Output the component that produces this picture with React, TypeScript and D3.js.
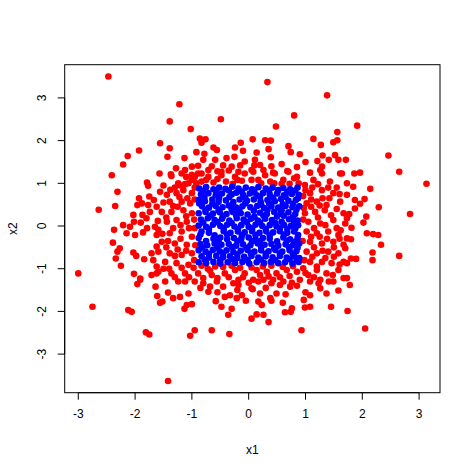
import React from "react";
import * as d3 from "d3";

// points, [x1, x2]
const redPoints: [number, number][] = [
  [-2.47,3.5],[-1.93,1.77],[-2.13,1.64],[-2.21,1.44],[-2.41,1.19],[-1.56,1.94],
  [-1.22,2.85],[-1.39,2.45],[-0.49,2.5],[-1.02,2.27],[-1.39,1.82],[-1.43,1.62],[-0.86,2.05],[-0.76,2.03],[-0.83,1.95],[-0.92,1.73],[-0.78,1.69],[-0.62,1.84],[-0.56,1.78],[-1.13,1.59],[-0.24,1.84],[-0.14,1.95],[0.07,2.03],[-0.1,1.76],[-1.28,1.35],[-1.37,1.21],[-1.0,1.39],[-0.89,1.41],[-0.59,1.55],[-0.39,1.59],[-0.3,1.39],[-0.07,1.51],[0.05,1.31],[-0.71,1.31],[-0.48,1.27],[-0.18,1.27],[-1.12,1.31],[-0.83,1.23],
  [0.33,3.37],[1.38,3.06],[0.8,2.59],[0.48,2.33],[0.29,2.01],[0.39,2.0],[1.14,2.04],[1.56,2.2],[1.56,2.01],[1.49,1.96],[1.27,1.9],[0.35,1.8],[0.7,1.87],[0.74,1.73],[0.39,1.61],[0.14,1.72],[0.11,1.55],[0.2,1.43],[0.26,1.31],[1.3,1.65],[1.52,1.66],[1.58,1.55],[1.71,1.55],[1.41,1.55],[1.21,1.52],[1.29,1.39],[1.26,1.31],[1.08,1.25],[0.68,1.29],[0.43,1.25],[1.64,1.23],
  [1.91,2.35],[2.46,1.65],[2.65,1.27],[1.86,1.23],[1.96,1.25],
  [3.13,0.99],[1.84,0.92],[2.14,0.87],[1.73,0.73],[1.87,0.61],[2.04,0.63],[1.96,0.52],[2.29,0.44],[1.87,0.41],[1.77,0.28],[2.84,0.28],[2.07,0.22],[1.73,0.18],[2.02,0.08],[1.81,-0.04],[2.08,-0.17],[2.19,-0.19],[2.28,-0.21],[1.73,-0.29],[1.8,-0.31],[2.33,-0.44],[1.7,-0.52],[2.18,-0.62],[2.65,-0.7],[1.8,-0.76],[1.89,-0.77],[2.18,-0.8],[1.73,-0.87],[1.73,-1.22],[1.78,-1.38],
  [1.74,-1.99],[2.05,-2.4],
  [-2.75,-1.89],[-2.12,-1.97],[-2.06,-2.01],[-1.81,-2.49],[-1.75,-2.54],[-1.96,-1.36],[-1.91,-1.26],[-1.64,-1.42],[-1.61,-1.64],[-1.56,-1.8],
  [-1.42,-3.63],[-1.03,-2.57],[-0.95,-2.44],[-0.65,-2.44],[-0.34,-2.53],[-0.36,-2.08],[-0.3,-1.94],[-0.48,-1.89],[-0.58,-1.76],[0.05,-2.17],[-1.13,-1.94],[-1.09,-1.85],[-1.0,-1.83],[-1.06,-1.58],[-1.21,-1.66],[-1.33,-1.69],[-1.42,-1.56],[-1.52,-1.77],[-1.12,-1.3],[-0.8,-1.34],[-0.71,-1.54],[-0.68,-1.42],[-0.56,-1.3],[-0.45,-1.42],[-0.42,-1.66],[-0.33,-1.62],[-0.21,-1.69],[-0.12,-1.62],[-0.27,-1.34],[-0.18,-1.38],[0.05,-1.46],
  [0.93,-2.44],[0.35,-2.25],[0.14,-2.07],[0.26,-2.08],[0.64,-2.02],[0.74,-2.01],[0.76,-1.93],[0.99,-1.91],[1.08,-1.89],[1.45,-1.89],[0.97,-1.73],[1.08,-1.62],[1.26,-1.46],[1.37,-1.58],[1.58,-1.51],[1.41,-1.3],[1.23,-1.34],[0.73,-1.42],[0.55,-1.38],[0.4,-1.34],[0.49,-1.58],[0.38,-1.69],[0.4,-1.75],[0.2,-1.58],[0.23,-1.85],[0.17,-1.77],[0.07,-1.48],[0.17,-1.3],[0.76,-1.33],
  [-2.31,0.8],[-2.64,0.38],[-2.35,0.47],[-1.79,1.02],[-1.77,0.94],[-1.93,0.65],[-1.88,0.53],[-1.75,0.69],[-1.67,0.61],[-1.77,0.49],[-1.74,0.33],[-2.03,0.26],[-1.87,0.26],[-1.8,0.18],[-2.02,0.1],[-1.9,0.08],[-2.37,-0.09],[-2.21,0.02],[-2.09,-0.02],[-2.15,-0.17],[-2.0,-0.21],[-1.86,-0.15],[-1.79,-0.05],[-1.65,-0.02],[-1.62,-0.21],[-2.39,-0.39],[-2.27,-0.52],[-2.31,-0.6],[-2.34,-0.76],[-2.03,-0.62],[-1.98,-0.7],[-1.84,-0.78],[-1.71,-0.64],[-1.62,-0.48],[-2.25,-0.93],[-3.0,-1.11],[-2.02,-1.12],[-1.91,-1.23],[-1.71,-1.15],[-1.62,-1.11],[-1.62,-0.95],[-1.68,-0.8],[-1.56,0.8],[-1.57,1.23],[-1.96,0.49],
  [-1.36,1.17],[-1.18,1.23],[-0.89,1.23],[-0.71,1.15],[-0.48,1.19],[-0.24,1.15],[-0.07,1.23],[0.05,1.08],[-1.0,1.08],[-0.83,1.04],[-1.24,1.0],[-1.06,1.0],[-1.44,0.73],[-1.27,0.77],[-1.15,0.84],[-1.0,0.77],[-1.39,0.57],[-1.18,0.57],[-1.03,0.53],[-1.53,0.33],[-1.36,0.33],[-1.15,0.37],[-1.0,0.3],[-1.44,0.1],[-1.27,0.14],[-1.09,0.1],[-1.59,-0.09],[-1.39,-0.17],[-1.18,-0.13],[-1.0,-0.25],[-1.53,-0.37],[-1.3,-0.41],[-1.09,-0.44],[-1.59,-0.6],[-1.39,-0.64],[-1.18,-0.68],[-1.0,-0.64],[-1.47,-0.84],[-1.27,-0.87],[-1.06,-0.91],[-0.83,-0.93],[-0.59,-0.95],[-1.59,-1.07],[-1.36,-1.11],[-1.12,-1.11],[-0.89,-1.11],[-0.65,-1.15],[-0.42,-1.11],[-0.24,-1.03],[-0.07,-1.11],[0.05,-0.97],[-1.47,-1.3],[-1.24,-1.3],[-0.95,-1.3],[-0.18,-1.26],
  [0.08,1.27],[0.29,1.19],[0.46,1.23],[0.7,1.27],[0.85,1.15],[1.29,1.23],[1.61,1.23],[0.17,1.08],[0.38,1.04],[0.61,1.08],[0.99,0.96],[1.14,1.08],[1.43,1.04],[1.73,1.0],[1.08,0.77],[1.29,0.84],[1.49,0.77],[1.2,0.57],[1.02,0.53],[1.37,0.49],[1.61,0.57],[1.17,0.33],[1.34,0.37],[0.99,0.3],[1.67,0.3],[1.05,0.1],[1.26,0.06],[1.49,0.14],[1.7,0.06],[1.02,-0.13],[1.2,-0.17],[1.4,-0.13],[1.58,-0.21],[1.08,-0.37],[1.29,-0.41],[1.49,-0.37],[1.67,-0.44],[1.02,-0.6],[1.2,-0.64],[1.4,-0.6],[1.58,-0.64],[1.08,-0.84],[1.29,-0.84],[1.46,-0.87],[1.67,-0.84],[0.14,-1.03],[0.32,-1.07],[0.49,-1.11],[0.67,-1.03],[0.85,-1.07],[0.96,-0.99],[1.2,-1.03],[1.37,-1.11],[1.58,-1.03],[0.08,-1.26],[0.26,-1.26],[0.43,-1.26],[0.61,-1.3],[0.9,-1.26],[1.08,-1.3],[1.26,-1.26],[1.49,-1.3],[1.67,-1.22],
  [-0.62,1.02],[-0.4,1.04],[-0.28,0.99],[-0.12,1.06],[0.45,1.0],[0.72,0.99],[0.8,1.12],[-0.55,1.28],[-0.35,1.3],
  [-0.45,-0.96],[-0.3,-0.93],[-0.15,-0.98],[0.25,-0.95],[0.4,-0.93],[0.6,-0.96],[0.78,-0.94],[-0.72,-1.0],[-0.1,-1.2],[-0.55,-1.22],[0.35,-1.18],[0.72,-1.17],[1.05,-1.15],[-0.8,-1.22],
  [0.96,0.7],[0.97,0.42],[0.95,-0.35],[0.98,-0.8],[0.96,0.15],[1.12,0.9],[1.15,-0.05],[1.25,-0.25],[1.1,0.45],[1.3,0.65],[1.15,-0.5],[1.35,-0.75],[1.55,0.4],[1.45,0.25],[1.55,-0.05],[1.4,0.9],[1.55,0.9],[1.6,-0.3],[1.5,-0.5],[1.6,-0.9],
  [-0.95,0.62],[-0.96,0.15],[-0.95,-0.05],[-0.94,-0.45],[-0.96,-0.8],[-0.95,0.9],
  [-1.5,0.55],[-1.25,0.45],[-1.45,0.2],[-1.2,-0.3],[-1.45,-0.5],[-1.3,-0.7],[-1.5,-1.0],[-1.3,-1.2],[-1.05,-1.2],[-1.2,0.95],[-1.3,0.9],[-1.5,0.95],[-1.1,1.15],[-0.95,1.15],
  // denser ring
  [-1.08,0.65],[-1.22,0.68],[-1.33,0.47],[-1.1,0.23],[-1.2,0.02],[-1.33,-0.05],[-1.05,-0.05],[-1.1,-0.58],[-1.25,-0.55],[-1.42,-0.35],[-1.52,-0.18],[-1.6,0.12],[-1.62,0.45],[-1.38,0.85],[-1.12,0.98],[-0.97,-0.98],[-1.18,-0.98],[-1.4,-1.0],
  [-0.75,1.08],[-0.55,1.1],[-0.2,1.08],[0.22,1.0],[0.58,0.99],[0.88,1.0],[-0.92,1.0],[-0.65,1.4],[-0.45,1.42],[-0.15,1.42],[0.1,1.42],[0.4,1.4],[0.58,1.45],[0.85,1.38],[1.0,1.5],[0.9,1.68],[-0.25,1.62],[-0.8,1.55],[-1.0,1.2],
  [-0.68,-1.05],[-0.35,-1.2],[0.0,-1.33],[0.2,-1.15],[0.55,-1.2],[0.85,-1.4],[1.0,-1.1],[1.15,-1.2],[-0.85,-1.45],[-0.55,-1.55],[-0.2,-1.5],[0.3,-1.45],[0.65,-1.6],[1.0,-1.55],[-0.05,-1.75],[0.6,-1.8],
  [1.1,0.62],[1.22,0.2],[1.35,0.02],[1.1,-0.25],[1.38,-0.3],[1.3,-0.58],[1.12,-0.72],[1.5,-0.72],[1.25,0.48],[1.42,0.65],[1.22,0.98],[1.0,0.84],[1.6,0.75],[1.62,-0.1],[1.48,-1.15],[1.2,-0.95],
];

const bluePoints: [number, number][] = [
  [-0.87,0.88],[-0.75,0.91],[-0.62,0.86],[-0.52,0.9],[-0.41,0.87],[-0.29,0.92],[-0.18,0.88],[-0.05,0.9],[0.06,0.86],[0.17,0.91],[0.3,0.88],[0.42,0.9],[0.61,0.89],[0.73,0.86],[0.86,0.9],
  [-0.84,0.74],[-0.71,0.77],[-0.58,0.72],[-0.47,0.76],[-0.3,0.74],[-0.22,0.78],[-0.1,0.73],[0.02,0.76],[0.14,0.72],[0.25,0.77],[0.37,0.74],[0.5,0.76],[0.62,0.72],[0.76,0.75],[0.88,0.73],
  [-0.88,0.61],[-0.77,0.58],[-0.64,0.62],[-0.53,0.57],[-0.4,0.6],[-0.27,0.56],[-0.16,0.62],[-0.03,0.59],[0.09,0.62],[0.21,0.57],[0.33,0.61],[0.46,0.58],[0.57,0.63],[0.7,0.59],[0.83,0.61],
  [-0.82,0.46],[-0.7,0.43],[-0.58,0.47],[-0.46,0.44],[-0.35,0.48],[-0.22,0.43],[-0.11,0.46],[0.03,0.44],[0.15,0.47],[0.27,0.42],[0.4,0.46],[0.52,0.43],[0.65,0.47],[0.77,0.44],[0.89,0.46],
  [-0.88,0.3],[-0.76,0.33],[-0.63,0.29],[-0.51,0.32],[-0.39,0.28],[-0.28,0.33],[-0.14,0.3],[-0.02,0.27],[0.2,0.31],[0.32,0.28],[0.45,0.33],[0.56,0.29],[0.7,0.32],[0.82,0.28],
  [-0.84,0.15],[-0.72,0.18],[-0.6,0.14],[-0.47,0.17],[-0.34,0.13],[-0.21,0.18],[-0.09,0.15],[0.04,0.17],[0.16,0.13],[0.29,0.17],[0.41,0.14],[0.71,0.16],[0.86,0.13],
  [-0.88,0.01],[-0.75,-0.02],[-0.63,0.03],[-0.5,0.0],[-0.38,0.03],[-0.25,-0.01],[-0.13,0.02],[0.0,-0.02],[0.12,0.03],[0.24,0.0],[0.37,0.02],[0.49,-0.01],[0.62,0.03],[0.74,0.0],[0.87,0.02],
  [-0.83,-0.13],[-0.7,-0.16],[-0.44,-0.12],[-0.32,-0.16],[-0.19,-0.13],[-0.07,-0.15],[0.06,-0.12],[0.19,-0.16],[0.31,-0.13],[0.43,-0.15],[0.55,-0.12],[0.68,-0.16],[0.8,-0.13],
  [-0.88,-0.28],[-0.62,-0.3],[-0.5,-0.27],[-0.38,-0.31],[-0.26,-0.28],[-0.13,-0.3],[0.0,-0.27],[0.12,-0.31],[0.25,-0.28],[0.37,-0.3],[0.61,-0.27],[0.73,-0.31],[0.86,-0.28],
  [-0.85,-0.42],[-0.73,-0.45],[-0.6,-0.41],[-0.48,-0.44],[-0.35,-0.42],[-0.22,-0.46],[-0.1,-0.43],[0.03,-0.45],[0.16,-0.41],[0.28,-0.44],[0.4,-0.42],[0.52,-0.46],[0.65,-0.43],[0.78,-0.45],[0.89,-0.41],
  [-0.88,-0.57],[-0.76,-0.6],[-0.63,-0.56],[-0.51,-0.59],[-0.39,-0.57],[-0.27,-0.61],[-0.14,-0.58],[-0.02,-0.56],[0.1,-0.6],[0.22,-0.57],[0.35,-0.59],[0.47,-0.56],[0.59,-0.6],[0.72,-0.57],[0.84,-0.59],
  [-0.83,-0.71],[-0.7,-0.74],[-0.57,-0.7],[-0.45,-0.73],[-0.33,-0.71],[-0.2,-0.75],[-0.08,-0.72],[0.05,-0.7],[0.17,-0.74],[0.3,-0.71],[0.42,-0.73],[0.55,-0.7],[0.67,-0.74],[0.8,-0.71],[0.89,-0.75],
  [-0.88,-0.85],[-0.75,-0.87],[-0.62,-0.84],[-0.5,-0.88],[-0.37,-0.85],[-0.24,-0.87],[-0.11,-0.84],[0.01,-0.88],[0.14,-0.85],[0.27,-0.87],[0.39,-0.84],[0.52,-0.87],[0.64,-0.85],[0.77,-0.88],[0.88,-0.84],
  // in-between points
  [-0.81,0.82],[-0.57,0.8],[-0.35,0.83],[-0.12,0.81],[0.1,0.8],[0.36,0.83],[0.52,0.84],[0.68,0.8],[0.82,0.83],
  [-0.78,0.67],[-0.52,0.66],[-0.34,0.68],[-0.06,0.66],[0.2,0.68],[0.43,0.66],[0.65,0.68],[0.87,0.65],
  [-0.87,0.53],[-0.64,0.52],[-0.28,0.51],[-0.06,0.53],[0.22,0.5],[0.36,0.53],[0.6,0.51],[0.78,0.52],
  [-0.76,0.38],[-0.53,0.37],[-0.3,0.39],[-0.17,0.37],[0.09,0.36],[0.33,0.38],[0.58,0.37],[0.84,0.38],
  [-0.68,0.24],[-0.45,0.23],[-0.22,0.25],[0.1,0.22],[0.26,0.24],[0.5,0.22],[0.62,0.24],[0.78,0.21],
  [-0.8,0.08],[-0.55,0.09],[-0.3,0.07],[-0.03,0.09],[0.2,0.08],[0.47,0.07],[0.58,0.1],[0.8,0.08],
  [-0.7,-0.07],[-0.44,-0.05],[-0.19,-0.07],[0.06,-0.06],[0.3,-0.07],[0.55,-0.05],[0.68,-0.07],[0.82,-0.06],
  [-0.85,-0.2],[-0.6,-0.22],[-0.38,-0.2],[-0.12,-0.22],[0.12,-0.21],[0.37,-0.22],[0.62,-0.2],[0.87,-0.21],
  [-0.75,-0.35],[-0.53,-0.36],[-0.2,-0.35],[0.06,-0.36],[0.2,-0.35],[0.5,-0.36],[0.67,-0.35],[0.8,-0.37],
  [-0.82,-0.5],[-0.55,-0.51],[-0.29,-0.5],[-0.04,-0.51],[0.22,-0.5],[0.45,-0.52],[0.71,-0.5],[0.86,-0.51],
  [-0.7,-0.65],[-0.45,-0.64],[-0.2,-0.66],[0.04,-0.64],[0.3,-0.65],[0.55,-0.64],[0.78,-0.66],
  [-0.77,-0.79],[-0.5,-0.8],[-0.28,-0.78],[-0.02,-0.8],[0.22,-0.79],[0.47,-0.8],[0.72,-0.78],[0.85,-0.8],
];

const xTicks = [-3, -2, -1, 0, 1, 2, 3];
const yTicks = [-3, -2, -1, 0, 1, 2, 3];

const W = 474, H = 474;
const left = 64.7, right = 440, top = 64.7, bottom = 392.7;

export default function App() {
  const x = d3.scaleLinear().domain([-3.239, 3.368]).range([left, right]);
  const y = d3.scaleLinear().domain([-3.904, 3.778]).range([bottom, top]);
  const font = "'Liberation Sans', Arial, Helvetica, sans-serif";

  return (
    <svg width={W} height={H} style={{ position: "absolute", left: 0, top: 0, background: "#fff" }}
      fontFamily={font} fontSize={12}>
      {redPoints.map((d, i) => (
        <circle key={"r" + i} cx={x(d[0])} cy={y(d[1])} r={3.3} fill="#ff0000" />
      ))}
      {bluePoints.map((d, i) => (
        <circle key={"b" + i} cx={x(d[0])} cy={y(d[1])} r={3.3} fill="#0000ff" />
      ))}
      <rect x={left} y={top} width={right - left} height={bottom - top} fill="none" stroke="#000" strokeWidth={1} />
      {/* x axis */}
      <line x1={x(-3)} x2={x(3)} y1={bottom} y2={bottom} stroke="#000" />
      {xTicks.map(t => (
        <g key={"xt" + t}>
          <line x1={x(t)} x2={x(t)} y1={bottom} y2={bottom + 7} stroke="#000" />
          <text x={x(t)} y={418} textAnchor="middle">{t}</text>
        </g>
      ))}
      {/* y axis */}
      <line x1={left} x2={left} y1={y(-3)} y2={y(3)} stroke="#000" />
      {yTicks.map(t => (
        <g key={"yt" + t}>
          <line x1={left - 7} x2={left} y1={y(t)} y2={y(t)} stroke="#000" />
          <text transform={`translate(46,${y(t)}) rotate(-90)`} textAnchor="middle">{t}</text>
        </g>
      ))}
      <text x={(left + right) / 2} y={454} textAnchor="middle">x1</text>
      <text transform={`translate(17,${(top + bottom) / 2}) rotate(-90)`} textAnchor="middle">x2</text>
    </svg>
  );
}
